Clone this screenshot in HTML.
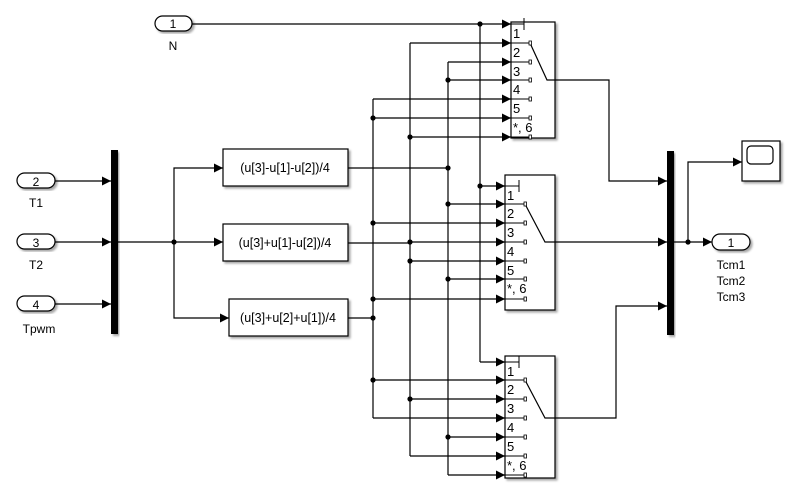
<!DOCTYPE html>
<html><head><meta charset="utf-8"><style>
html,body{margin:0;padding:0;background:#fff;}
svg{display:block;}
text{font-family:"Liberation Sans",Arial,sans-serif;fill:#000;}
</style></head><body>
<svg width="812" height="497" viewBox="0 0 812 497" xmlns="http://www.w3.org/2000/svg">
<defs>
<marker id="a" markerWidth="9" markerHeight="9" refX="9" refY="4.5" orient="auto" markerUnits="userSpaceOnUse"><path d="M0,0 L9,4.5 L0,9 Z" fill="#000"/></marker>
<filter id="sh" x="-10%" y="-10%" width="130%" height="130%"><feDropShadow dx="2" dy="2" stdDeviation="1" flood-color="#000" flood-opacity="0.35"/></filter>
</defs>
<g stroke="#000" stroke-width="1.2" fill="none">
<rect x="155" y="16" width="37" height="15" rx="7.5" fill="#fff" filter="url(#sh)"/>
<rect x="17" y="173" width="38" height="15" rx="7.5" fill="#fff" filter="url(#sh)"/>
<rect x="17" y="234" width="38" height="15" rx="7.5" fill="#fff" filter="url(#sh)"/>
<rect x="17" y="296" width="38" height="15" rx="7.5" fill="#fff" filter="url(#sh)"/>
<path d="M55,181 H111" marker-end="url(#a)"/>
<path d="M55,242 H111" marker-end="url(#a)"/>
<path d="M55,304 H111" marker-end="url(#a)"/>
<path d="M118,242 H223" marker-end="url(#a)"/>
<path d="M174,242 V168 H223" marker-end="url(#a)"/>
<path d="M174,242 V318 H229" marker-end="url(#a)"/>
<rect x="223" y="149" width="125" height="37" fill="#fff" filter="url(#sh)"/>
<rect x="223" y="224" width="125" height="37" fill="#fff" filter="url(#sh)"/>
<rect x="229" y="299" width="119" height="37" fill="#fff" filter="url(#sh)"/>
<path d="M348,168 H448"/>
<path d="M348,243 H410"/>
<path d="M348,318 H373"/>
<path d="M373,99 V418"/>
<path d="M410,43 V456"/>
<path d="M448,62 V475"/>
<path d="M480,24 V362"/>
<path d="M192,24 H511" marker-end="url(#a)"/>
<path d="M410,43 H511" marker-end="url(#a)"/>
<path d="M448,62 H511" marker-end="url(#a)"/>
<path d="M448,80 H511" marker-end="url(#a)"/>
<path d="M373,99 H511" marker-end="url(#a)"/>
<path d="M373,118 H511" marker-end="url(#a)"/>
<path d="M410,137 H511" marker-end="url(#a)"/>
<path d="M480,186 H505" marker-end="url(#a)"/>
<path d="M448,204 H505" marker-end="url(#a)"/>
<path d="M373,223 H505" marker-end="url(#a)"/>
<path d="M410,242 H505" marker-end="url(#a)"/>
<path d="M410,261 H505" marker-end="url(#a)"/>
<path d="M448,279 H505" marker-end="url(#a)"/>
<path d="M373,299 H505" marker-end="url(#a)"/>
<path d="M480,362 H505" marker-end="url(#a)"/>
<path d="M373,380 H505" marker-end="url(#a)"/>
<path d="M410,399 H505" marker-end="url(#a)"/>
<path d="M373,418 H505" marker-end="url(#a)"/>
<path d="M448,437 H505" marker-end="url(#a)"/>
<path d="M410,456 H505" marker-end="url(#a)"/>
<path d="M448,475 H505" marker-end="url(#a)"/>
<rect x="511" y="22" width="44" height="116" fill="#fff" filter="url(#sh)"/>
<rect x="505" y="175" width="50" height="135" fill="#fff" filter="url(#sh)"/>
<rect x="505" y="356" width="50" height="122" fill="#fff" filter="url(#sh)"/>
<g stroke-width="1">
<path d="M511,24 H524 M524,18 V30"/>
<path d="M511,43 H529 M511,62 H529 M511,80 H529 M511,99 H529 M511,118 H529 M511,137 H529"/>
<path d="M530,43 L547,80 H609 V181 H667" stroke-width="1.2" marker-end="url(#a)"/>
<path d="M505,186 H519 M519,180 V192"/>
<path d="M505,204 H524 M505,223 H524 M505,242 H524 M505,261 H524 M505,279 H524 M505,299 H524"/>
<path d="M525,204 L545,242 H667" stroke-width="1.2" marker-end="url(#a)"/>
<path d="M505,362 H519 M519,356 V368"/>
<path d="M505,380 H524 M505,399 H524 M505,418 H524 M505,437 H524 M505,456 H524 M505,475 H524"/>
<path d="M525,380 L545,418 H616 V306 H667" stroke-width="1.2" marker-end="url(#a)"/>
</g>
<g stroke-width="0.8" fill="#fff">
<rect x="529" y="41" width="2.5" height="4"/><rect x="529" y="60" width="2.5" height="4"/><rect x="529" y="78" width="2.5" height="4"/><rect x="529" y="97" width="2.5" height="4"/><rect x="529" y="116" width="2.5" height="4"/><rect x="529" y="135" width="2.5" height="4"/>
<rect x="524" y="202" width="2.5" height="4"/><rect x="524" y="221" width="2.5" height="4"/><rect x="524" y="240" width="2.5" height="4"/><rect x="524" y="259" width="2.5" height="4"/><rect x="524" y="277" width="2.5" height="4"/><rect x="524" y="297" width="2.5" height="4"/>
<rect x="524" y="378" width="2.5" height="4"/><rect x="524" y="397" width="2.5" height="4"/><rect x="524" y="416" width="2.5" height="4"/><rect x="524" y="435" width="2.5" height="4"/><rect x="524" y="454" width="2.5" height="4"/><rect x="524" y="473" width="2.5" height="4"/>
</g>
<path d="M674,242 H712" marker-end="url(#a)"/>
<path d="M688,242 V162 H742" marker-end="url(#a)"/>
<rect x="742" y="141" width="38" height="40" fill="#fff" filter="url(#sh)"/>
<rect x="747" y="146" width="26" height="18" rx="4"/>
<rect x="712" y="234" width="38" height="16" rx="8" fill="#fff" filter="url(#sh)"/>
</g>
<rect x="111" y="150" width="7" height="184" fill="#000" filter="url(#sh)"/>
<rect x="667" y="151" width="7" height="184" fill="#000" filter="url(#sh)"/>
<g fill="#000">
<circle cx="174" cy="242" r="2.6"/>
<circle cx="480" cy="24" r="2.6"/>
<circle cx="448" cy="80" r="2.6"/>
<circle cx="373" cy="118" r="2.6"/>
<circle cx="410" cy="137" r="2.6"/>
<circle cx="448" cy="168" r="2.6"/>
<circle cx="480" cy="186" r="2.6"/>
<circle cx="448" cy="204" r="2.6"/>
<circle cx="373" cy="223" r="2.6"/>
<circle cx="410" cy="242" r="2.6"/>
<circle cx="410" cy="261" r="2.6"/>
<circle cx="448" cy="279" r="2.6"/>
<circle cx="373" cy="299" r="2.6"/>
<circle cx="373" cy="318" r="2.6"/>
<circle cx="373" cy="380" r="2.6"/>
<circle cx="410" cy="399" r="2.6"/>
<circle cx="448" cy="437" r="2.6"/>
<circle cx="688" cy="242" r="2.6"/>
</g>
<g font-size="12" text-anchor="middle">
<text x="173" y="28">1</text>
<text x="173" y="50">N</text>
<text x="36" y="186">2</text>
<text x="36" y="207">T1</text>
<text x="36" y="247">3</text>
<text x="36" y="269">T2</text>
<text x="36" y="309">4</text>
<text x="39" y="333">Tpwm</text>
<text x="731" y="247">1</text>
<text x="731" y="269">Tcm1</text>
<text x="731" y="285">Tcm2</text>
<text x="731" y="301">Tcm3</text>
</g>
<g font-size="12.5" text-anchor="middle">
<text x="285" y="172">(u[3]-u[1]-u[2])/4</text>
<text x="285" y="247">(u[3]+u[1]-u[2])/4</text>
<text x="288" y="322">(u[3]+u[2]+u[1])/4</text>
</g>
<g font-size="13">
<text x="513" y="38">1</text><text x="513" y="57">2</text><text x="513" y="76">3</text><text x="513" y="94">4</text><text x="513" y="113">5</text><text x="513" y="132">*, 6</text>
<text x="507" y="200">1</text><text x="507" y="218">2</text><text x="507" y="237">3</text><text x="507" y="256">4</text><text x="507" y="275">5</text><text x="507" y="293">*, 6</text>
<text x="507" y="376">1</text><text x="507" y="394">2</text><text x="507" y="413">3</text><text x="507" y="432">4</text><text x="507" y="451">5</text><text x="507" y="470">*, 6</text>
</g>
</svg>
</body></html>
